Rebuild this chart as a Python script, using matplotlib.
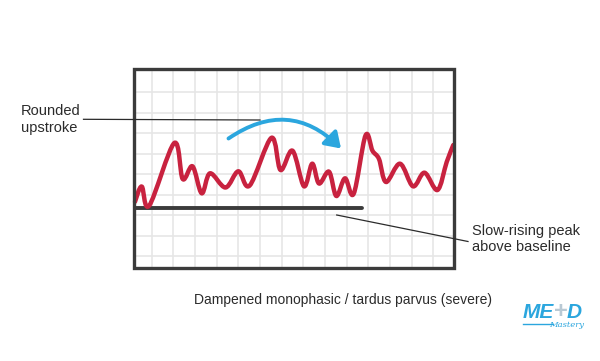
import numpy as np
import matplotlib
matplotlib.use("Agg")
import matplotlib.pyplot as plt
from matplotlib.path import Path
from matplotlib.patches import PathPatch, Rectangle, FancyArrowPatch

# ---- data (pixel-space coordinates of the drawing) ----
wave_x = [135, 141.7, 149.3, 174.3, 182.7, 192.5, 201.7, 210, 225.5, 238.3, 249.7,
          271.5, 280.5, 292.5, 304, 312.2, 319, 329, 336.3, 345, 353.7, 365.5,
          372.5, 379, 386, 400, 413, 424.5, 437.5, 446.7, 453.3]
wave_y = [201.7, 186.5, 205.5, 143, 179, 166.3, 193.3, 173.3, 187.5, 171.3, 185.5,
          137.8, 170, 150.7, 186.3, 163.7, 183.5, 171.7, 196, 178.3, 193.7, 135.5,
          150.8, 159, 182, 163.7, 186.3, 172.7, 190, 162, 145]
baseline_x = [135, 362]
baseline_y = [208.3, 208.3]
arrow_start = (228.5, 138.5)
arrow_end = (341, 148.5)
title = "Dampened monophasic / tardus parvus (severe)"
label_left = "Rounded\nupstroke"
label_right = "Slow-rising peak\nabove baseline"

RED = "#c8223f"
BLUE = "#2ba6de"
DARK = "#3b3b3b"
TXT = "#2b2b2b"
FONT = "Liberation Sans"

fig = plt.figure(figsize=(6.0, 3.61), dpi=100)
ax = fig.add_axes([0, 0, 1, 1])
ax.set_xlim(0, 600)
ax.set_ylim(361, 0)
ax.axis("off")

# box + grid
x0, x1, y0, y1 = 134, 454, 69, 268
for gx in np.arange(151.7, x1 - 2, 21.67):
    ax.plot([gx, gx], [y0, y1], color="#e6e6e6", lw=1.2, zorder=1)
for gy in np.arange(92, y1 - 2, 20.5):
    ax.plot([x0, x1], [gy, gy], color="#e6e6e6", lw=1.2, zorder=1)
ax.add_patch(Rectangle((x0, y0), x1 - x0, y1 - y0, fill=False, ec=DARK, lw=2.4, zorder=5))

# baseline
ax.plot(baseline_x, baseline_y, color=DARK, lw=2.8, solid_capstyle="round", zorder=3)

# smooth waveform (Catmull-Rom -> cubic Bezier)
P = np.column_stack([wave_x, wave_y])
verts = [P[0]]
codes = [Path.MOVETO]
n = len(P)
for i in range(n - 1):
    p0 = P[i - 1] if i > 0 else P[i]
    p1, p2 = P[i], P[i + 1]
    p3 = P[i + 2] if i + 2 < n else P[i + 1]
    c1 = p1 + (p2 - p0) / 6.0
    c2 = p2 - (p3 - p1) / 6.0
    verts += [c1, c2, p2]
    codes += [Path.CURVE4] * 3
ax.add_patch(PathPatch(Path(verts, codes), fill=False, ec=RED, lw=3.2,
                       capstyle="round", joinstyle="round", zorder=4))

# blue curved arrow
arr = FancyArrowPatch(arrow_start, arrow_end, connectionstyle="arc3,rad=-0.41",
                      arrowstyle="-|>,head_length=0.45,head_width=0.3",
                      mutation_scale=20, color=BLUE, lw=2.8, shrinkA=0, shrinkB=0,
                      capstyle="round", zorder=6)
ax.add_patch(arr)

# annotation lines
ax.plot([83.5, 260], [119.3, 120], color=TXT, lw=0.9, zorder=6)
ax.plot([336.7, 468], [215, 241.5], color=TXT, lw=0.9, zorder=6)

ax.text(20.5, 119.5, label_left, fontsize=10.5, family=FONT, color=TXT,
        ha="left", va="center", linespacing=1.2)
ax.text(471.5, 239, label_right, fontsize=10.5, family=FONT, color=TXT,
        ha="left", va="center", linespacing=1.15)

ax.text(343, 300, title, fontsize=10, family=FONT, color=TXT, ha="center", va="center")

# logo
ax.text(523, 313, "ME", fontsize=15, family=FONT, weight="bold", color=BLUE,
        ha="left", va="center", style="italic")
ax.text(560.5, 311, "+", fontsize=17, family=FONT, weight="bold", color="#b9c9d4",
        ha="center", va="center")
ax.text(567, 313, "D", fontsize=15, family=FONT, weight="bold", color=BLUE,
        ha="left", va="center", style="italic")
ax.plot([523, 553], [323.5, 323.5], color=BLUE, lw=1.0)
ax.text(567, 325, "Mastery", fontsize=6, family="DejaVu Serif", style="italic",
        color=BLUE, ha="center", va="center")

fig.savefig("out.png", dpi=100)
